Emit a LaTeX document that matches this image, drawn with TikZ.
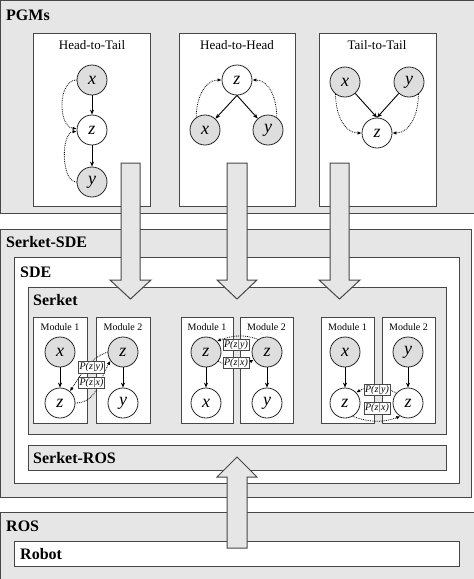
\documentclass[tikz,border=0pt]{standalone}
\usepackage{fontspec}
\setmainfont{Liberation Serif}
\usepackage{xcolor}
\usetikzlibrary{arrows.meta}
\definecolor{layergray}{HTML}{E6E6E6}
\definecolor{nodegray}{HTML}{DEDEDE}
\definecolor{edgegray}{HTML}{474747}
\tikzset{
  layer/.style={draw=edgegray, fill=layergray, line width=1pt},
  panel/.style={draw=edgegray, fill=white, line width=1pt},
  layername/.style={anchor=west, inner sep=0pt, font=\bfseries\fontsize{16}{16}\selectfont},
  pgmtitle/.style={inner sep=0pt, font=\fontsize{13}{13}\selectfont},
  modtitle/.style={inner sep=0pt, font=\fontsize{10}{10}\selectfont},
  var/.style={circle, draw=black!85, line width=0.8pt, minimum size=30pt, inner sep=0pt, font=\itshape\fontsize{18}{18}\selectfont},
  obs/.style={var, fill=nodegray},
  lat/.style={var, fill=white},
  edge/.style={-{Stealth[length=5pt,width=4pt]}, line width=0.9pt},
  msg/.style={-{Latex[length=4pt,width=3.5pt]}, densely dotted, line width=0.8pt},
  prob/.style={draw=edgegray, fill=white, line width=0.7pt, inner sep=1.2pt, font=\itshape\fontsize{10}{10}\selectfont},
  bigarrow/.style={draw=edgegray, fill=layergray, line width=1pt, line join=miter}
}
\begin{document}
\begin{tikzpicture}[x=1pt,y=1pt]
\useasboundingbox (0,0) rectangle (474,-579);
\draw[layer] (0.5,-0.5) rectangle (476,-213);
\draw[panel] (33,-33) rectangle (150,-206);
\draw[panel] (179,-33) rectangle (295,-206);
\draw[panel] (319,-33) rectangle (436,-206);
\draw[layer] (0.5,-229) rectangle (471,-497);
\draw[panel] (14,-257) rectangle (459,-483);
\draw[layer] (28,-287) rectangle (446,-434);
\draw[panel] (33,-317) rectangle (87,-423);
\draw[panel] (96,-317) rectangle (150,-423);
\draw[panel] (181,-317) rectangle (233,-423);
\draw[panel] (240,-317) rectangle (293,-423);
\draw[panel] (321,-317) rectangle (374,-423);
\draw[panel] (382,-317) rectangle (435,-423);
\draw[layer] (28,-445) rectangle (446,-470);
\draw[layer] (0.5,-512) rectangle (476,-581);
\draw[panel] (14,-541) rectangle (459,-566);

\node[layername] (pgms) at (6,-15) {PGMs};
\node[layername] (serketsde) at (6,-242) {Serket-SDE};
\node[layername] (sde) at (20,-272) {SDE};
\node[layername] (serket) at (33,-300) {Serket};
\node[layername] (serketros) at (33,-458) {Serket-ROS};
\node[layername] (ros) at (6,-526) {ROS};
\node[layername] (robot) at (20,-554) {Robot};

\node[pgmtitle] (httitle) at (92,-45) {Head-to-Tail};
\node[pgmtitle] (hhtitle) at (237,-45) {Head-to-Head};
\node[pgmtitle] (tttitle) at (377,-45) {Tail-to-Tail};

\node[obs] (htx) at (92,-80) {x};
\node[lat] (htz) at (92,-130) {z};
\node[obs] (hty) at (92,-182) {y};
\draw[edge] (htx) -- (htz);
\draw[edge] (htz) -- (hty);
\draw[msg] (htx.west) to[out=180,in=175] (htz.175);
\draw[msg] (hty.west) to[out=180,in=185,looseness=0.8] (htz.185);

\node[lat] (hhz) at (237,-80) {z};
\node[obs] (hhx) at (205,-130) {x};
\node[obs] (hhy) at (268,-130) {y};
\draw[edge] (hhz.south) -- (hhx);
\draw[edge] (hhz.south) -- (hhy);
\draw[msg] (hhx.125) to[out=90,in=180] (hhz.west);
\draw[msg] (hhy.55) to[out=90,in=0] (hhz.east);

\node[obs] (ttx) at (345,-82) {x};
\node[obs] (tty) at (409,-82) {y};
\node[lat] (ttz) at (377,-133) {z};
\draw[edge] (ttx) -- (ttz.north);
\draw[edge] (tty) -- (ttz.north);
\draw[msg] (ttx.232) to[out=270,in=180] (ttz.west);
\draw[msg] (tty.308) to[out=270,in=0] (ttz.east);

\node[modtitle] (g1m1) at (60,-327) {Module 1};
\node[modtitle] (g1m2) at (123,-327) {Module 2};
\node[obs] (g1ax) at (60,-352) {x};
\node[lat] (g1az) at (60,-403) {z};
\node[obs] (g1bz) at (123,-352) {z};
\node[lat] (g1by) at (123,-403) {y};
\draw[edge] (g1ax) -- (g1az);
\draw[edge] (g1bz) -- (g1by);
\draw[msg] (g1bz.west) to[out=200,in=55] (g1az.50);
\draw[msg] (g1az.east) to[out=0,in=240] (g1bz.215);
\node[prob] (g1py) at (91.5,-367.5) {P(z|y)};
\node[prob] (g1px) at (91.5,-383) {P(z|x)};

\node[modtitle] (g2m1) at (207,-327) {Module 1};
\node[modtitle] (g2m2) at (266.5,-327) {Module 2};
\node[obs] (g2az) at (206,-352) {z};
\node[lat] (g2ax) at (206,-403) {x};
\node[obs] (g2bz) at (267,-352) {z};
\node[lat] (g2by) at (267,-403) {y};
\draw[edge] (g2az) -- (g2ax);
\draw[edge] (g2bz) -- (g2by);
\draw[msg] (g2bz.125) to[out=160,in=20] (g2az.45);
\draw[msg] (g2az.-37) to[out=-30,in=210] (g2bz.210);
\node[prob] (g2py) at (236,-345) {P(z|y)};
\node[prob] (g2px) at (236,-363) {P(z|x)};

\node[modtitle] (g3m1) at (347.5,-327) {Module 1};
\node[modtitle] (g3m2) at (408.5,-327) {Module 2};
\node[obs] (g3ax) at (345,-352) {x};
\node[lat] (g3az) at (345,-403) {z};
\node[obs] (g3by) at (408,-352) {y};
\node[lat] (g3bz) at (408,-403) {z};
\draw[edge] (g3ax) -- (g3az);
\draw[edge] (g3by) -- (g3bz);
\draw[msg] (g3bz.140) to[out=150,in=30] (g3az.43);
\draw[msg] (g3az.-60) to[out=-20,in=-160] (g3bz.-120);
\node[prob] (g3py) at (377,-390) {P(z|y)};
\node[prob] (g3px) at (377,-408.5) {P(z|x)};

\filldraw[bigarrow] (121,-163) -- (121,-280) -- (110,-280) -- (130.5,-299) -- (151,-280) -- (140,-280) -- (140,-163) -- cycle;
\filldraw[bigarrow] (227,-163) -- (227,-280) -- (217,-280) -- (237,-299) -- (257,-280) -- (247,-280) -- (247,-163) -- cycle;
\filldraw[bigarrow] (330,-163) -- (330,-280) -- (319,-280) -- (339.5,-299) -- (360,-280) -- (349,-280) -- (349,-163) -- cycle;
\filldraw[bigarrow] (227,-548) -- (227,-477) -- (217,-477) -- (237,-457) -- (257,-477) -- (247,-477) -- (247,-548) -- cycle;
\end{tikzpicture}
\end{document}
